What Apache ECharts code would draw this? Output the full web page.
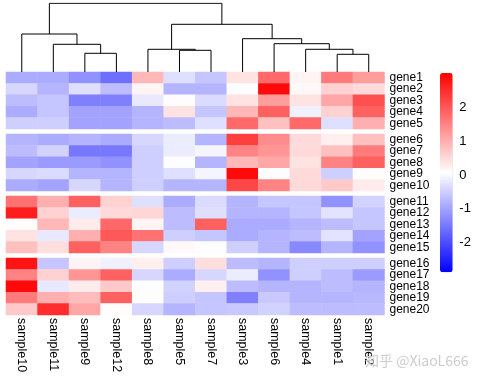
<!DOCTYPE html>
<html>
<head>
<meta charset="utf-8">
<script src="https://cdn.jsdelivr.net/npm/echarts@6/dist/echarts.min.js"></script>
<style>html,body{margin:0;padding:0;background:#fff}#c{width:480px;height:384px}</style>
</head>
<body>
<div id="c"></div>
<script>
// ---- data ----
const samples = ['sample10','sample11','sample9','sample12','sample8','sample5','sample7','sample3','sample6','sample4','sample1','sample2'];
const genesG1 = ['gene1','gene2','gene3','gene4','gene5'];
const genesG2 = ['gene6','gene7','gene8','gene9','gene10'];
const genesG3 = ['gene11','gene12','gene13','gene14','gene15'];
const genesG4 = ['gene16','gene17','gene18','gene19','gene20'];
// values per row, columns in the sample order above
const valuesG1 = [
  [-0.9,-0.9,-1.2,-1.6, 0.9,-0.3,-0.6, 0.4, 1.8, 0.2, 1.6, 1.2],
  [-0.4,-0.8,-0.3,-0.7, 0.2,-0.8,-0.8, 0.05,2.9, 0.15,0.6, 0.5],
  [-0.7,-0.6,-1.4,-1.4,-0.2, 0.1,-0.35,0.4, 1.2, 0.4, 1.1, 2.1],
  [-0.9,-0.6,-1.0,-1.0,-0.8, 0.4,-0.6, 0.9, 1.9,-0.1, 0.6, 1.9],
  [-0.5,-0.5,-1.0,-1.0,-0.8,-0.7,-0.3, 1.8, 0.8, 1.8,-0.3, 1.0]
];
const valuesG2 = [
  [-0.8,-0.9,-0.8,-0.9,-0.4,-0.15,-0.8, 2.3, 1.4, 0.5, 0.25,0.8],
  [-0.7,-0.45,-1.5,-1.5,-0.5,-0.15,-0.05,1.5, 1.3, 0.5, 0.8, 1.6],
  [-1.0,-1.1,-1.1,-1.2,-0.5, 0.05,-0.8, 0.9, 1.1, 0.4, 1.5, 1.9],
  [-0.4,-0.35,-0.8,-0.8,-0.5,-0.3,-0.05, 2.9, 0.05,0.5,-0.5, 0.1],
  [-0.9,-1.0,-0.4,-0.8,-0.5,-0.8,-0.8, 2.2, 1.5, 0.5, 0.7, 0.3]
];
const valuesG3 = [
  [ 1.7, 1.0, 1.9, 0.6,-0.3,-0.9,-0.35,-0.8,-0.6,-0.6,-1.2,-0.45],
  [ 2.7, 0.6,-0.15,0.5, 0.55,-0.7,-0.3,-0.8,-0.8,-0.6,-0.25,-0.6],
  [ 0.1, 0.9, 0.3, 1.8, 0.2,-0.7, 1.9,-0.9,-0.9,-0.8,-0.7,-0.6],
  [ 0.4,-0.2, 1.0, 2.0, 1.7,-0.5,-0.6,-0.9,-0.8,-0.7,-0.25,-1.0],
  [ 0.8, 0.45,1.9, 1.5,-0.4, 0.15,0.05,-0.5,-0.8,-1.3,-0.8,-1.2]
];
const valuesG4 = [
  [ 2.8,-0.6, 0.2,-0.1, 0.25,-0.5, 0.45,-0.7,-0.8,-0.5,-0.5,-0.5],
  [ 1.5, 0.6, 1.3, 1.9,-0.4,-0.9,-0.4,-0.15,-1.2,-0.5,-0.7,-1.1],
  [ 2.9,-0.2, 0.3, 0.7, 0.05,-0.45,0.25,-0.7,-0.8,-0.8,-0.7,-0.8],
  [ 1.6, 1.0, 0.85,1.9, 0.1,-0.5,-0.6,-1.4,-0.55,-0.8,-0.8,-0.75],
  [ 0.7, 2.5, 1.1, 0.1,-0.4,-0.8,-0.6,-0.55,-0.45,-0.7,-0.7,-0.7]
];
// column dendrogram merges: [left, right, height]
const colMerges = [
  ['sample9','sample12',18.7],  // m0
  ['sample11','m0',27.7],       // m1
  ['sample10','m1',38.0],       // m2
  ['sample5','sample7',21.7],   // m3
  ['sample8','m3',22.7],        // m4
  ['sample1','sample2',17.7],   // m5
  ['sample4','m5',22.7],        // m6
  ['sample6','m6',28.3],        // m7
  ['sample3','m7',33.3],        // m8
  ['m4','m8',47.7],             // m9
  ['m2','m9',68.7]              // m10
];
const colorMin = -2.88, colorMax = 3.02;
const legendTicks = [-2,-1,0,1,2];
const watermark = '知乎 @XiaoL666';

// ---- build ----
const FONT = 'Liberation Sans, Arial, sans-serif';
const groups = [[genesG1,valuesG1],[genesG2,valuesG2],[genesG3,valuesG3],[genesG4,valuesG4]];
const HM_LEFT = 6, HM_W = 378.5, GROUP_H = 57, GROUP_GAP = 5, HM_TOP = 72;

const grids = [], xAxes = [], yAxes = [], series = [];
groups.forEach((g, gi) => {
  const [genes, vals] = g;
  grids.push({left: HM_LEFT, width: HM_W, top: HM_TOP + gi*(GROUP_H+GROUP_GAP), height: GROUP_H});
  const last = gi === groups.length - 1;
  xAxes.push({type:'category', gridIndex: gi, data: samples, position:'bottom',
    axisLine:{show:false}, axisTick:{show:false}, splitLine:{show:false},
    axisLabel:{show: last, rotate:-90, margin:3, fontSize:12.5, color:'#000', fontFamily:FONT, interval:0}});
  yAxes.push({type:'category', gridIndex: gi, data: genes, inverse:true, position:'right',
    axisLine:{show:false}, axisTick:{show:false}, splitLine:{show:false},
    axisLabel:{margin:5, fontSize:12, color:'#000', fontFamily:FONT, interval:0}});
  const data = [];
  vals.forEach((row, r) => row.forEach((v, c) => data.push([c, r, v])));
  series.push({type:'heatmap', xAxisIndex: gi, yAxisIndex: gi, data, itemStyle:{borderWidth:0}, emphasis:{disabled:true}, progressive:0});
});

// dendrogram grid (index 4)
grids.push({left: HM_LEFT, width: HM_W, top: 3, height: 69});
xAxes.push({type:'value', gridIndex:4, min:-0.5, max:samples.length-0.5, show:false});
yAxes.push({type:'value', gridIndex:4, min:0, max:69, show:false});
const nodes = {};
function nodePos(name){
  if (nodes[name]) return nodes[name];
  return {x: samples.indexOf(name), h: 0};
}
const dendroLines = [];
colMerges.forEach((m, i) => {
  const a = nodePos(m[0]), b = nodePos(m[1]), H = m[2];
  dendroLines.push({coords: [[a.x, a.h],[a.x, H],[b.x, H],[b.x, b.h]]});
  nodes['m'+i] = {x:(a.x+b.x)/2, h:H};
});
series.push({type:'lines', coordinateSystem:'cartesian2d', xAxisIndex:4, yAxisIndex:4, polyline:true,
  data: dendroLines, lineStyle:{color:'#000', width:1, opacity:1}, silent:true});

// legend axis grid (index 5)
grids.push({left: 440, width: 12.7, top: 73, height: 199.3});
xAxes.push({type:'value', gridIndex:5, show:false});
yAxes.push({type:'value', gridIndex:5, min:colorMin, max:colorMax, position:'right',
  axisLine:{show:false}, axisTick:{show:false}, splitLine:{show:false},
  axisLabel:{customValues: legendTicks, margin:6.6, fontSize:13, color:'#000', fontFamily:FONT}});

const chart = echarts.init(document.getElementById('c'), null, {renderer:'canvas'});
chart.setOption({
  animation:false,
  backgroundColor:'#fff',
  grid: grids, xAxis: xAxes, yAxis: yAxes, series,
  visualMap: {type:'continuous', min:colorMin, max:colorMax, seriesIndex:[0,1,2,3],
    calculable:false, realtime:false, left:440, top:73, itemWidth:12.7, itemHeight:199.3,
    padding:0, text:['',''], textGap:0, showLabel:false, hoverLink:false,
    inRange:{color:['#0000ff','#ffffff','#ff0000']}},
  graphic: [{type:'text', left: 365, top: 354, z: 100,
    style:{text: watermark, fill:'#cdcdcd', font:'14px "Noto Sans CJK SC", sans-serif'}}]
});
</script>
</body>
</html>
